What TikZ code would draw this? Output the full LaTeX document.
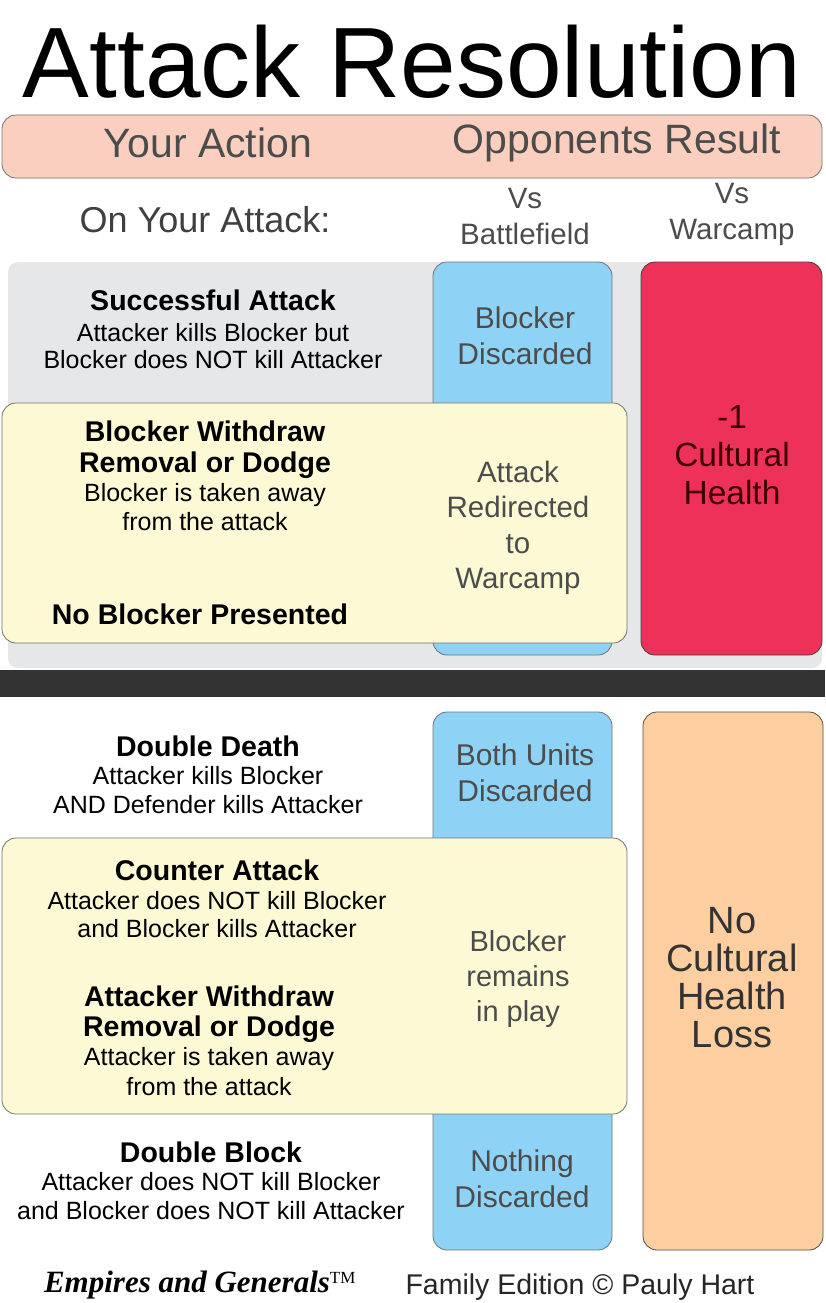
\documentclass[tikz,border=0pt]{standalone}
\usepackage{fontspec}
\setmainfont{Liberation Sans}
\begin{document}
\begin{tikzpicture}[x=1pt,y=-1pt,
 bx/.style={draw=black!55,line width=0.8pt,rounded corners=14pt},
 lt/.style={text=black!70,font=\fontsize{30}{36}\selectfont,align=center},
 bd/.style={font=\bfseries\fontsize{28.5}{33}\selectfont,anchor=center},
 nm/.style={font=\fontsize{25}{29}\selectfont,anchor=center}]
\definecolor{pinkh}{HTML}{FBCFC0}\definecolor{grayp}{HTML}{E6E7E9}
\definecolor{blu}{HTML}{8ED3F5}\definecolor{redb}{HTML}{EE3158}
\definecolor{yel}{HTML}{FDF9D5}\definecolor{org}{HTML}{FDCFA0}
\useasboundingbox (0,0) rectangle (825,1303);
\fill[white] (0,0) rectangle (825,1303);
\node (title) at (412,62) {\fontsize{100}{104}\selectfont Attack Resolution};
\draw[bx,fill=pinkh] (2,115) rectangle (822,178);
\node[lt,font=\fontsize{41}{44}\selectfont] (ya) at (208,143) {Your Action};
\node[lt,font=\fontsize{41}{44}\selectfont] (or) at (617,143) {Opponents Result};
\node[lt,font=\fontsize{36}{40}\selectfont,text=black!75] (oya) at (205,220) {On Your Attack:};
\node[lt,font=\fontsize{29.5}{36}\selectfont] (vb) at (525,216) {Vs\\Battlefield};
\node[lt,font=\fontsize{29.5}{36}\selectfont] (vw) at (732,214) {Vs\\Warcamp};
% top section
\fill[grayp,rounded corners=10pt] (8,262) rectangle (822,668);
\draw[bx,fill=blu] (433,262) rectangle (612,655);
\draw[bx,fill=redb,draw=black!75] (641,262) rectangle (822,655);
\node[lt,font=\fontsize{33.5}{38}\selectfont,text=black!75!red] (m1) at (732,455) {-1\\Cultural\\Health};
\node[bd] (sa) at (213,300) {Successful Attack};
\node[nm] (sa1) at (213,333) {Attacker kills Blocker but};
\node[nm] (sa2) at (213,360) {Blocker does NOT kill Attacker};
\node[lt] (bdc) at (525,336) {Blocker\\Discarded};
\draw[bx,fill=yel] (2,403) rectangle (627,643);
\node[bd] (bw) at (205,431) {Blocker Withdraw};
\node[bd] (bw2) at (205,465) {Removal or Dodge};
\node[nm] (bw3) at (205,495) {Blocker is taken away};
\node[nm] (bw4) at (205,522) {from the attack};
\node[bd] (nbp) at (200,614) {No Blocker Presented};
\node[lt,font=\fontsize{29.5}{35.5}\selectfont] (ar) at (518,528) {Attack\\Redirected\\to\\Warcamp};
\fill[black!80] (0,670) rectangle (825,697);
% bottom section
\draw[bx,fill=blu] (433,712) rectangle (612,1250);
\draw[bx,fill=org,draw=black!70] (643,712) rectangle (823,1250);
\node[lt,font=\fontsize{38}{38}\selectfont,text=black!80] (nc) at (732,978) {No\\Cultural\\Health\\Loss};
\node[bd] (dd) at (208,746) {Double Death};
\node[nm] (dd1) at (208,776) {Attacker kills Blocker};
\node[nm] (dd2) at (208,805) {AND Defender kills Attacker};
\node[lt] (bud) at (525,773) {Both Units\\Discarded};
\draw[bx,fill=yel] (2,838) rectangle (627,1114);
\node[bd] (ca) at (217,870) {Counter Attack};
\node[nm] (ca1) at (217,901) {Attacker does NOT kill Blocker};
\node[nm] (ca2) at (217,929) {and Blocker kills Attacker};
\node[bd] (aw) at (209,996) {Attacker Withdraw};
\node[bd] (aw2) at (209,1029) {Removal or Dodge};
\node[nm] (aw3) at (209,1059) {Attacker is taken away};
\node[nm] (aw4) at (209,1087) {from the attack};
\node[lt,font=\fontsize{29}{35}\selectfont] (brp) at (518,979) {Blocker\\remains\\in play};
\node[bd] (db) at (211,1152) {Double Block};
\node[nm] (db1) at (211,1182) {Attacker does NOT kill Blocker};
\node[nm] (db2) at (211,1211) {and Blocker does NOT kill Attacker};
\node[lt] (nd) at (522,1179) {Nothing\\Discarded};
\node (eg) at (200,1285) {\fontspec{Liberation Serif}\bfseries\itshape\fontsize{31}{33}\selectfont Empires and Generals\textsuperscript{\fontsize{17}{17}\selectfont\upshape\mdseries TM}};
\node[text=black!85] (fe) at (580,1287) {\fontsize{28.5}{32}\selectfont Family Edition \textcopyright\ Pauly Hart};
\end{tikzpicture}
\end{document}
